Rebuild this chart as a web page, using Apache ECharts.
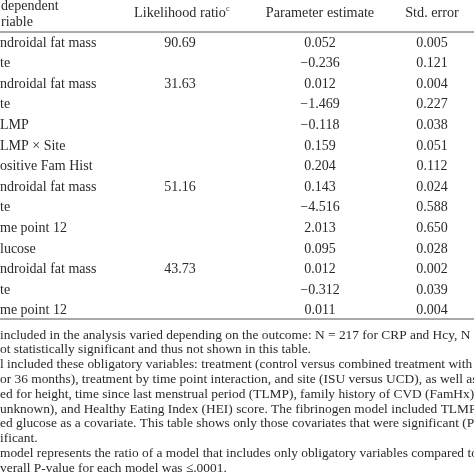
<!DOCTYPE html>
<html><head><meta charset="utf-8">
<script src="https://cdn.jsdelivr.net/npm/echarts@6/dist/echarts.min.js"></script>
<style>html,body{margin:0;padding:0;background:#fff}#c{width:474px;height:474px}</style>
</head><body><div id="c"></div>
<script>
const headers = ["Likelihood ratio", "Parameter estimate", "Std. error"];
const rowLabels = ["ndroidal fat mass","te","ndroidal fat mass","te","LMP","LMP × Site","ositive Fam Hist","ndroidal fat mass","te","me point 12","lucose","ndroidal fat mass","te","me point 12"];
const likelihood = ["90.69","","31.63","","","","","51.16","","","","43.73","",""];
const estimates = ["0.052","−0.236","0.012","−1.469","−0.118","0.159","0.204","0.143","−4.516","2.013","0.095","0.012","−0.312","0.011"];
const stdErrors = ["0.005","0.121","0.004","0.227","0.038","0.051","0.112","0.024","0.588","0.650","0.028","0.002","0.039","0.004"];
const footnotes = [
"included in the analysis varied depending on the outcome: N = 217 for CRP and Hcy, N = 2",
"ot statistically significant and thus not shown in this table.",
"l included these obligatory variables: treatment (control versus combined treatment with 80 mg",
"or 36 months), treatment by time point interaction, and site (ISU versus UCD), as well as pot",
"ed for height, time since last menstrual period (TLMP), family history of CVD (FamHx) coded",
"unknown), and Healthy Eating Index (HEI) score. The fibrinogen model included TLMP by site",
"ed glucose as a covariate. This table shows only those covariates that were significant (P ≤ .05) fo",
"ificant.",
"model represents the ratio of a model that includes only obligatory variables compared to the final",
"verall P-value for each model was ≤.0001."
];
const F = '"Liberation Serif", "DejaVu Serif", serif';
const col = '#2a2a2a';
const g = [];
const T = (x, y, s, align, size) => g.push({type:'text', x, y, style:{text:s, font:(size||14)+'px '+F, fill:col, textAlign:align||'left', textVerticalAlign:'middle'}});
T(1,6,'dependent'); T(1,22,'riable');
T(180,13,headers[0],'center',14.2); T(226,9,'c','left',8);
T(320,13,headers[1],'center',14.2); T(432,13,headers[2],'center',14.2);
g.push({type:'line', shape:{x1:0,y1:32,x2:474,y2:32}, style:{stroke:'#555',lineWidth:1}});
rowLabels.forEach((l,i)=>{
  const y = 43 + i*20.6;
  T(0,y,l); T(180,y,likelihood[i],'center'); T(320,y,estimates[i],'center'); T(432,y,stdErrors[i],'center');
});
g.push({type:'line', shape:{x1:0,y1:319,x2:474,y2:319}, style:{stroke:'#555',lineWidth:1}});
footnotes.forEach((s,i)=>T(0,335+i*14.8,s,'left',13.4));
echarts.init(document.getElementById('c')).setOption({animation:false, graphic:g});
</script></body></html>
